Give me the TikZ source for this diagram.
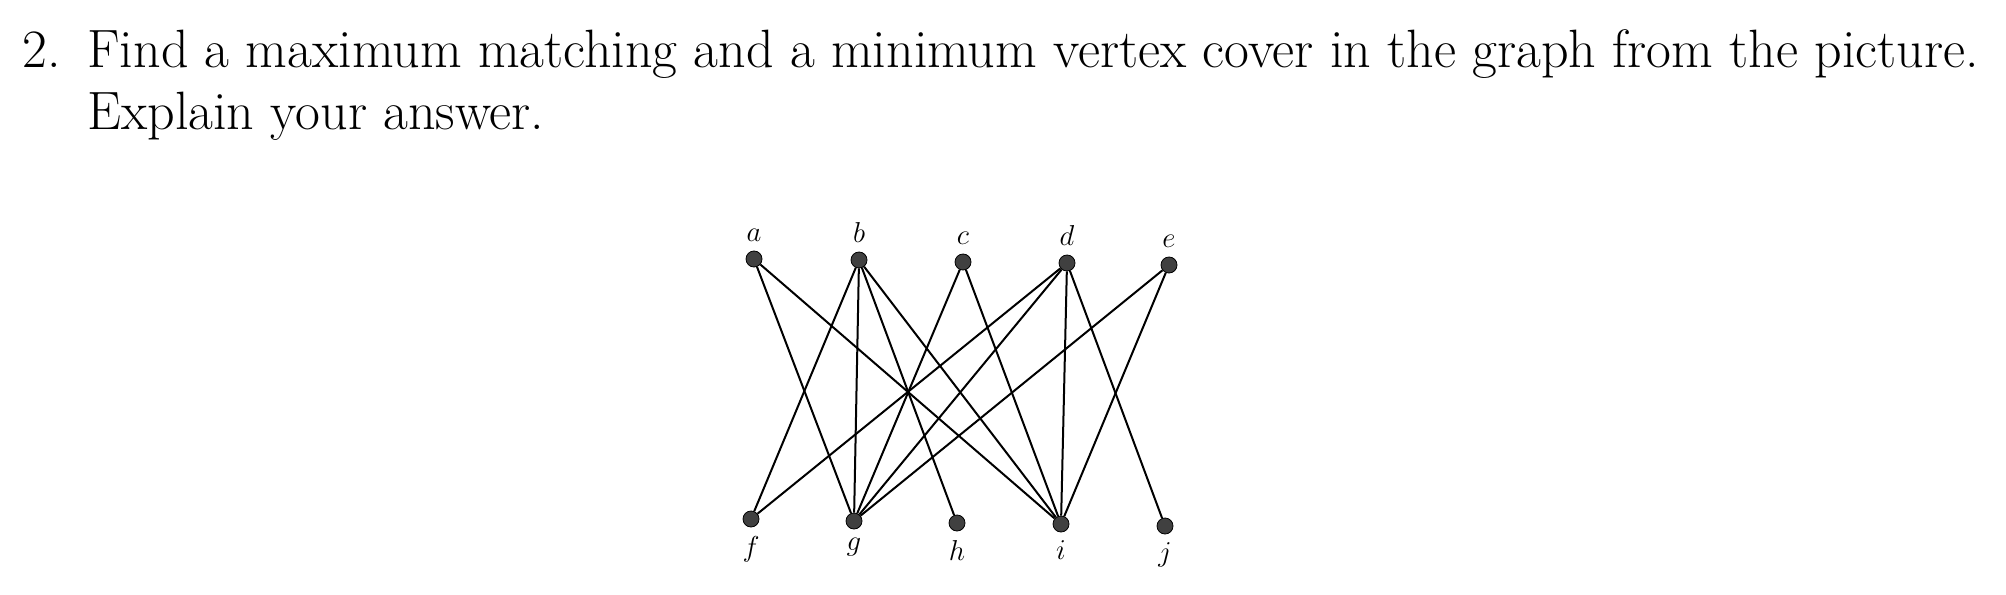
\documentclass[tikz,border=0pt]{standalone}
\usepackage{amssymb,amsmath}
\usepackage{tikz}

\begin{document}
\begin{tikzpicture}[x=0.5pt,y=-0.5pt]
  \tikzset{VertexStyle/.style = {
    shape         = circle,
    draw          = black,
    fill          = black!75,
    inner sep     = 0pt,
    minimum size  = 8pt
    }
  }
  \tikzset{EdgeStyle/.style = {
    draw          = black,
    line width    = 1pt
    }
  }
  \tikzset{TextStyle/.style = {
    anchor        = base west,
    inner sep     = 0pt,
    font          = \fontsize{27}{32}\selectfont
    }
  }
  \tikzset{LabelStyle/.style = {
    font          = \fontsize{15}{18}\selectfont
    }
  }
  \useasboundingbox (0,0) rectangle (2006,594);

  \node[TextStyle](N) at (22, 67) {2.};
  \node[TextStyle](L1) at (87, 67) {Find a maximum matching and a minimum vertex cover in the graph from the picture.};
  \node[TextStyle](L2) at (87, 129) {Explain your answer.};

  \node[VertexStyle](A) at (754, 259) {};
  \node[VertexStyle](B) at (859, 260) {};
  \node[VertexStyle](C) at (963, 262) {};
  \node[VertexStyle](D) at (1067, 263) {};
  \node[VertexStyle](E) at (1169, 265) {};
  \node[VertexStyle](F) at (751, 519) {};
  \node[VertexStyle](G) at (854, 521) {};
  \node[VertexStyle](H) at (957, 523) {};
  \node[VertexStyle](I) at (1061, 524) {};
  \node[VertexStyle](J) at (1165, 526) {};

  \node[LabelStyle, above=5pt] at (A) {$a$};
  \node[LabelStyle, above=5pt] at (B) {$b$};
  \node[LabelStyle, above=5pt] at (C) {$c$};
  \node[LabelStyle, above=5pt] at (D) {$d$};
  \node[LabelStyle, above=5pt] at (E) {$e$};
  \node[LabelStyle, below=5pt] at (F) {$f$};
  \node[LabelStyle, below=5pt] at (G) {$g$};
  \node[LabelStyle, below=5pt] at (H) {$h$};
  \node[LabelStyle, below=5pt] at (I) {$i$};
  \node[LabelStyle, below=5pt] at (J) {$j$};

  \draw[EdgeStyle](A) -- (G);
  \draw[EdgeStyle](A) -- (I);
  \draw[EdgeStyle](B) -- (F);
  \draw[EdgeStyle](B) -- (G);
  \draw[EdgeStyle](B) -- (H);
  \draw[EdgeStyle](B) -- (I);
  \draw[EdgeStyle](C) -- (G);
  \draw[EdgeStyle](C) -- (I);
  \draw[EdgeStyle](D) -- (F);
  \draw[EdgeStyle](D) -- (G);
  \draw[EdgeStyle](D) -- (I);
  \draw[EdgeStyle](D) -- (J);
  \draw[EdgeStyle](E) -- (G);
  \draw[EdgeStyle](E) -- (I);
\end{tikzpicture}
\end{document}
